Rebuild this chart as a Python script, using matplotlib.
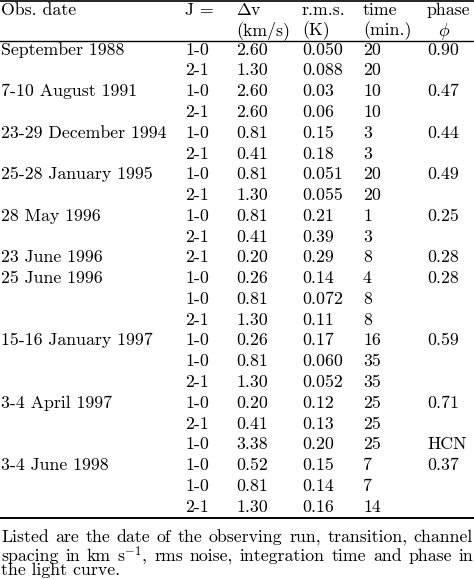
import matplotlib
matplotlib.use("Agg")
import matplotlib.pyplot as plt

plt.rcParams['font.family'] = ['cmr10', 'DejaVu Serif']
plt.rcParams['mathtext.fontset'] = 'cm'
plt.rcParams['axes.unicode_minus'] = False

dates = ["September 1988", "", "7-10 August 1991", "", "23-29 December 1994", "",
         "25-28 January 1995", "", "28 May 1996", "", "23 June 1996", "25 June 1996",
         "", "", "15-16 January 1997", "", "", "3-4 April 1997", "", "", "3-4 June 1998", "", ""]
J = ["1-0", "2-1", "1-0", "2-1", "1-0", "2-1", "1-0", "2-1", "1-0", "2-1", "2-1", "1-0",
     "1-0", "2-1", "1-0", "1-0", "2-1", "1-0", "2-1", "1-0", "1-0", "1-0", "2-1"]
dv = ["2.60", "1.30", "2.60", "2.60", "0.81", "0.41", "0.81", "1.30", "0.81", "0.41", "0.20", "0.26",
      "0.81", "1.30", "0.26", "0.81", "1.30", "0.20", "0.41", "3.38", "0.52", "0.81", "1.30"]
rms = ["0.050", "0.088", "0.03", "0.06", "0.15", "0.18", "0.051", "0.055", "0.21", "0.39", "0.29", "0.14",
       "0.072", "0.11", "0.17", "0.060", "0.052", "0.12", "0.13", "0.20", "0.15", "0.14", "0.16"]
tmin = ["20", "20", "10", "10", "3", "3", "20", "20", "1", "3", "8", "4",
        "8", "8", "16", "35", "35", "25", "25", "25", "7", "7", "14"]
phase = ["0.90", "", "0.47", "", "0.44", "", "0.49", "", "0.25", "", "0.28", "0.28",
         "", "", "0.59", "", "", "0.71", "", "HCN", "0.37", "", ""]
header1 = ["Obs. date", "J =", r"$\Delta$v", "r.m.s.", "time", "phase"]
header2 = ["", "", "(km/s)", "(K)", "(min.)", r"  $\phi$"]
footnote = ["Listed are the date of the observing run, transition, channel",
            r"spacing in km s$^{-1}$, rms noise, integration time and phase in",
            "the light curve."]

W, H = 474, 579
fig = plt.figure(figsize=(W/100, H/100), dpi=100)
ax = fig.add_axes([0, 0, 1, 1])
ax.set_xlim(0, W); ax.set_ylim(H, 0); ax.axis('off')

fs = 12.8
colx = [1, 185, 236, 302, 363, 427]
for i, (a, b) in enumerate(zip(header1, header2)):
    ax.text(colx[i], 10, a, fontsize=fs, va='center', ha='left')
    if b:
        ax.text(colx[i], 31, b, fontsize=fs, va='center', ha='left')

ax.plot([0, W], [1, 1], color='black', lw=1.2)
ax.plot([0, W], [41, 41], color='black', lw=1.0)
ax.plot([0, W], [518, 518], color='black', lw=1.4)

y0, dy = 50, 20.77
cols = [dates, J, dv, rms, tmin, phase]
for r in range(len(J)):
    y = y0 + r * dy
    for c, col in enumerate(cols):
        if col[r]:
            ax.text(colx[c], y, col[r], fontsize=fs, va='center', ha='left')

fig.canvas.draw()
renderer = fig.canvas.get_renderer()
fy = [537, 556, 570]
for li, line in enumerate(footnote):
    y = fy[li]
    if li == len(footnote) - 1:
        ax.text(1, y, line, fontsize=fs, va='center', ha='left')
        continue
    words = line.split(' ')
    merged = []
    for w in words:
        if merged and merged[-1].count('$') % 2 == 1:
            merged[-1] += ' ' + w
        else:
            merged.append(w)
    texts = [ax.text(0, y, w, fontsize=fs, va='center', ha='left') for w in merged]
    widths = [t.get_window_extent(renderer).width for t in texts]
    total = sum(widths)
    gap = (W - 2 - total) / (len(texts) - 1)
    x = 1.0
    for t, w in zip(texts, widths):
        t.set_x(x)
        x += w + gap

fig.savefig("out.png", dpi=100)
